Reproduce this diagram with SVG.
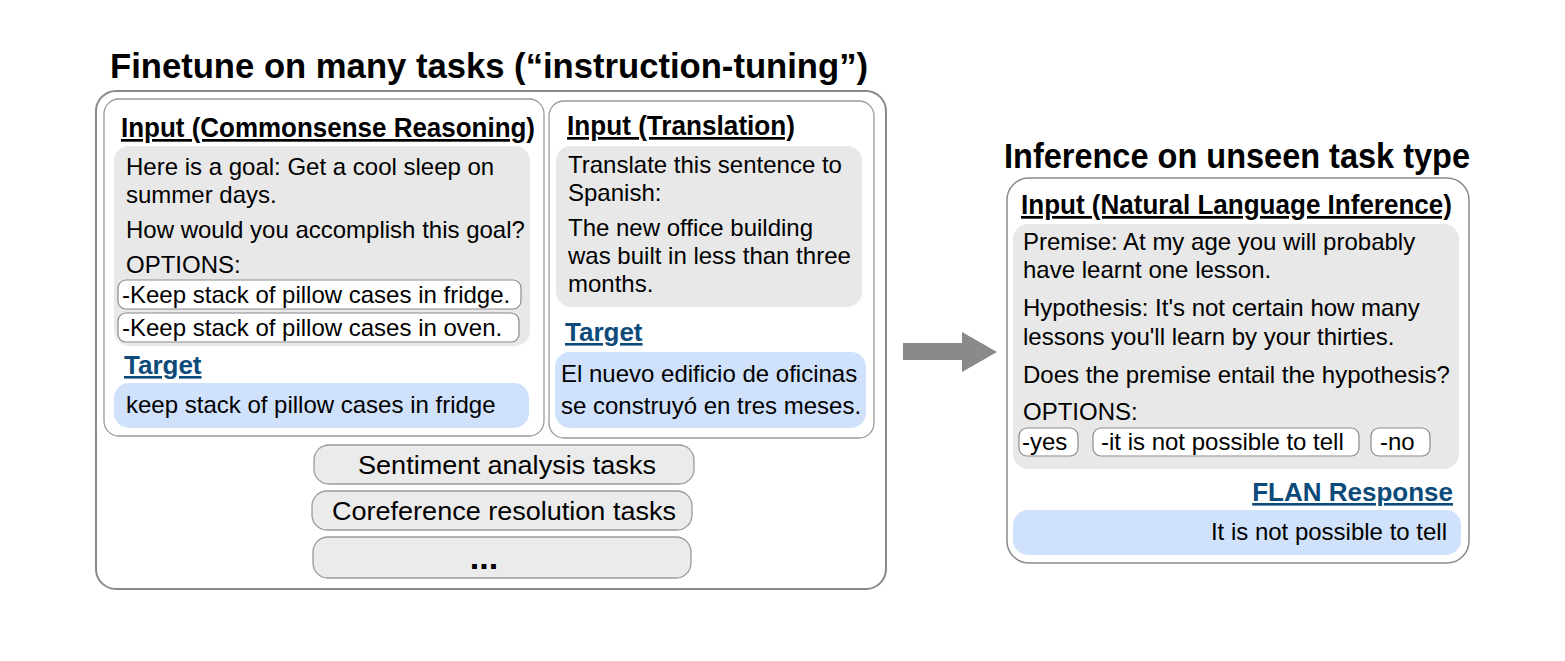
<svg xmlns="http://www.w3.org/2000/svg" width="1565" height="661" viewBox="0 0 1565 661">
<style>
text{font-family:"Liberation Sans",Arial,Helvetica,sans-serif;fill:#000}
.title{font-size:35px;font-weight:bold}
.hdr{font-size:27px;font-weight:bold;text-decoration:underline}
.tgt{font-size:26px;font-weight:bold;text-decoration:underline;fill:#0c4a7a}
.body{font-size:24px}
.pilltxt{font-size:26px;text-anchor:middle}
.outer{fill:#fff;stroke:#8a8a8a;stroke-width:2}
.inner{fill:#fff;stroke:#9a9a9a;stroke-width:1.3}
.gray{fill:#e8e8e8}
.blue{fill:#cfe1fb}
.opt{fill:#fff;stroke:#8a8a8a;stroke-width:1.2}
.pill{fill:#ebebeb;stroke:#9a9a9a;stroke-width:1.3}
</style>
<rect width="1565" height="661" fill="#fff"/>

<g id="finetune-panel">
<text class="title" x="110" y="78" textLength="758" lengthAdjust="spacingAndGlyphs">Finetune on many tasks (“instruction-tuning”)</text>
<rect class="outer" x="96" y="91" width="790" height="498" rx="20"/>
</g>

<g id="commonsense-task">
<rect class="inner" x="104" y="99" width="440" height="337" rx="15"/>
<text class="hdr" x="121" y="137" textLength="414" lengthAdjust="spacingAndGlyphs">Input (Commonsense Reasoning)</text>
<rect class="gray" x="114" y="146" width="416" height="200" rx="15"/>
<text class="body" x="126" y="175">Here is a goal: Get a cool sleep on</text>
<text class="body" x="126" y="203">summer days.</text>
<text class="body" x="126" y="238">How would you accomplish this goal?</text>
<text class="body" x="126" y="273">OPTIONS:</text>
<rect class="opt" x="118" y="280" width="403" height="29" rx="8"/>
<text class="body" x="122" y="303">-Keep stack of pillow cases in fridge.</text>
<rect class="opt" x="118" y="313" width="401" height="29" rx="8"/>
<text class="body" x="122" y="336">-Keep stack of pillow cases in oven.</text>
<text class="tgt" x="124" y="374">Target</text>
<rect class="blue" x="114" y="383" width="415" height="45" rx="15"/>
<text class="body" x="126" y="413">keep stack of pillow cases in fridge</text>
</g>

<g id="translation-task">
<rect class="inner" x="549" y="101" width="325" height="337" rx="15"/>
<text class="hdr" x="567" y="135" textLength="228" lengthAdjust="spacingAndGlyphs">Input (Translation)</text>
<rect class="gray" x="556" y="146" width="306" height="161" rx="15"/>
<text class="body" x="568" y="173">Translate this sentence to</text>
<text class="body" x="568" y="201">Spanish:</text>
<text class="body" x="568" y="236">The new office building</text>
<text class="body" x="568" y="264">was built in less than three</text>
<text class="body" x="568" y="292">months.</text>
<text class="tgt" x="565" y="341">Target</text>
<rect class="blue" x="555" y="352" width="311" height="76" rx="15"/>
<text class="body" x="561" y="382">El nuevo edificio de oficinas</text>
<text class="body" x="561" y="414">se construyó en tres meses.</text>
</g>

<g id="sentiment-tasks">
<rect class="pill" x="314" y="445" width="380" height="39" rx="15"/>
<text class="pilltxt" x="507" y="474" textLength="298" lengthAdjust="spacingAndGlyphs">Sentiment analysis tasks</text>
</g>
<g id="coreference-tasks">
<rect class="pill" x="312" y="491" width="380" height="39" rx="15"/>
<text class="pilltxt" x="504" y="520" textLength="344" lengthAdjust="spacingAndGlyphs">Coreference resolution tasks</text>
</g>
<g id="more-tasks">
<rect class="pill" x="313" y="537" width="378" height="41" rx="15"/>
<text class="pilltxt" x="484" y="569" style="font-weight:bold;font-size:34px">...</text>
</g>

<g id="connectors">
<polygon points="903,343 962,343 962,332 997,352 962,372 962,360 903,360" fill="#8a8a8a"/>
</g>

<g id="inference-panel">
<text class="title" x="1004" y="168" textLength="466" lengthAdjust="spacingAndGlyphs">Inference on unseen task type</text>
<rect class="outer" x="1007" y="178" width="462" height="385" rx="22" style="stroke-width:1.5"/>
<text class="hdr" x="1021" y="214" textLength="431" lengthAdjust="spacingAndGlyphs">Input (Natural Language Inference)</text>
<rect class="gray" x="1013" y="224" width="446" height="245" rx="15"/>
<text class="body" x="1023" y="250">Premise: At my age you will probably</text>
<text class="body" x="1023" y="278">have learnt one lesson.</text>
<text class="body" x="1023" y="316">Hypothesis: It's not certain how many</text>
<text class="body" x="1023" y="345">lessons you'll learn by your thirties.</text>
<text class="body" x="1023" y="383">Does the premise entail the hypothesis?</text>
<text class="body" x="1023" y="420">OPTIONS:</text>
<rect class="opt" x="1019" y="428" width="59" height="28" rx="8"/>
<text class="body" x="1022" y="450">-yes</text>
<rect class="opt" x="1093" y="428" width="266" height="28" rx="8"/>
<text class="body" x="1101" y="450">-it is not possible to tell</text>
<rect class="opt" x="1371" y="428" width="59" height="28" rx="8"/>
<text class="body" x="1380" y="450">-no</text>
<text class="tgt" x="1453" y="501" text-anchor="end">FLAN Response</text>
<rect class="blue" x="1013" y="510" width="448" height="45" rx="15"/>
<text class="body" x="1447" y="540" text-anchor="end">It is not possible to tell</text>
</g>
</svg>
